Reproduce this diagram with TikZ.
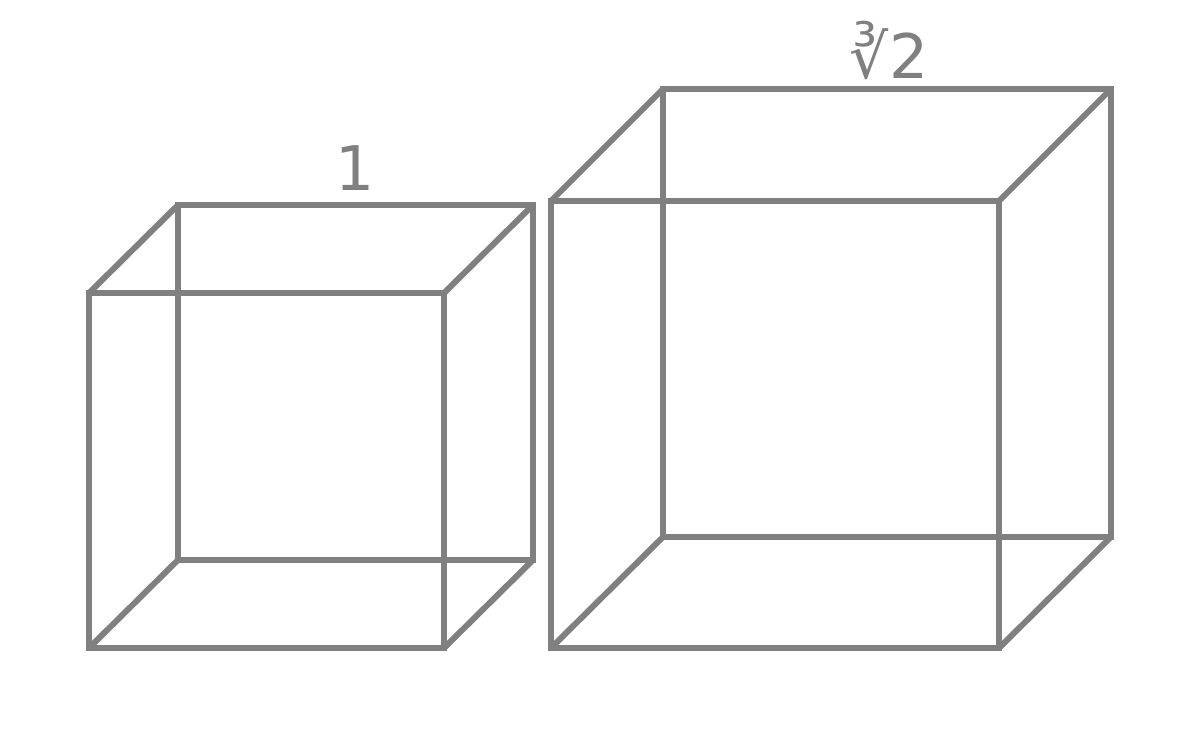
\documentclass[tikz,border=0pt]{standalone}
\usepackage{fontspec}
\setmainfont{DejaVu Sans}
\usetikzlibrary{positioning}
\tikzset{edge/.style={draw=gray,line width=3.4pt,line join=miter},
  lbl/.style={text=gray,font=\fontsize{35}{40}\selectfont,inner sep=0pt}}
\begin{document}
\begin{tikzpicture}[x=0.02cm,y=-0.02cm]
\useasboundingbox (0,0) rectangle (1200,738);
% small cube
\coordinate (A1) at (89,293);  \coordinate (B1) at (444,293);
\coordinate (C1) at (444,648); \coordinate (D1) at (89,648);
\coordinate (E1) at (178,205); \coordinate (F1) at (533,205);
\coordinate (G1) at (533,560); \coordinate (H1) at (178,560);
\draw[edge] (A1) -- (B1) -- (C1) -- (D1) -- cycle;
\draw[edge] (E1) -- (F1) -- (G1) -- (H1) -- cycle;
\draw[edge] (A1) -- (E1) (B1) -- (F1) (C1) -- (G1) (D1) -- (H1);
% big cube
\coordinate (A2) at (551,201); \coordinate (B2) at (999,201);
\coordinate (C2) at (999,648); \coordinate (D2) at (551,648);
\coordinate (E2) at (663,89);  \coordinate (F2) at (1111,89);
\coordinate (G2) at (1111,537);\coordinate (H2) at (663,537);
\draw[edge] (A2) -- (B2) -- (C2) -- (D2) -- cycle;
\draw[edge] (E2) -- (F2) -- (G2) -- (H2) -- cycle;
\draw[edge] (A2) -- (E2) (B2) -- (F2) (C2) -- (G2) (D2) -- (H2);
% labels
\node[lbl] (one) at (355,168) {1};
\node[lbl] (root) at (889,50) {∛2};
\end{tikzpicture}
\end{document}
